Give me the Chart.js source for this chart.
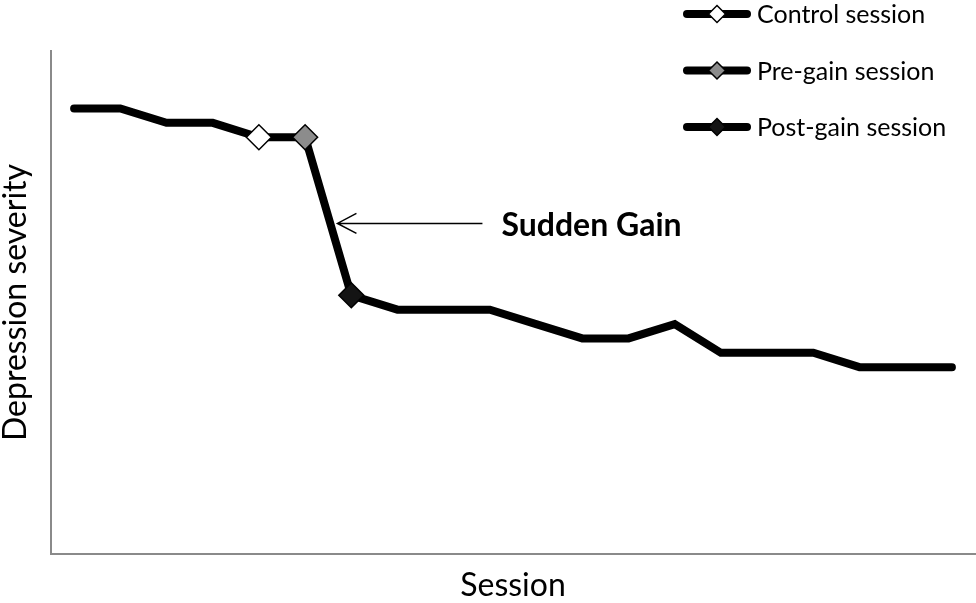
<!DOCTYPE html>
<html>
<head>
<meta charset="utf-8">
<script src="https://cdn.jsdelivr.net/npm/chart.js@4/dist/chart.umd.min.js"></script>
<style>
  html, body { margin: 0; padding: 0; background: #fff; overflow: hidden; }
  #chart { display: block; }
</style>
</head>
<body>
<canvas id="chart" width="976" height="603"></canvas>
<script>
// data
const sessions = ["1", "2", "3", "4", "5", "6", "7", "8", "9", "10",
                  "11", "12", "13", "14", "15", "16", "17", "18", "19", "20"];
const severity = [31, 31, 30, 30, 29, 29, 18, 17, 17, 17,
                  16, 15, 15, 16, 14, 14, 14, 13, 13, 13];
const markerNames = ["Control session", "Pre-gain session", "Post-gain session"];
const markerIndex = [4, 5, 6];
const markerFill = ["#ffffff", "#8c8c8c", "#141414"];
const gainLabel = "Sudden Gain";
const gainArrowAt = [5.7, 23];   // [session index, severity] where the arrow points

const FONT = "Lato, 'Open Sans', sans-serif";

function onlyAt(idx) {
    return severity.map((v, i) => (i === idx ? v : null));
}

function diamond(ctx, x, y, r, fill) {
    ctx.beginPath();
    ctx.moveTo(x, y - r);
    ctx.lineTo(x + r, y);
    ctx.lineTo(x, y + r);
    ctx.lineTo(x - r, y);
    ctx.closePath();
    ctx.fillStyle = fill;
    ctx.fill();
    ctx.lineWidth = 1.5;
    ctx.strokeStyle = "#000";
    ctx.stroke();
}

// legend at the top right: thick line with a diamond in the middle
const legendPlugin = {
    id: "lineDiamondLegend",
    afterDraw(chart) {
        const ctx = chart.ctx;
        ctx.save();
        markerNames.forEach((name, i) => {
            const y = 14 + i * 56.5;
            ctx.beginPath();
            ctx.moveTo(687, y);
            ctx.lineTo(747, y);
            ctx.lineWidth = 8;
            ctx.lineCap = "round";
            ctx.strokeStyle = "#000";
            ctx.stroke();
            diamond(ctx, 717, y, 8.5, markerFill[i]);
            ctx.fillStyle = "#000";
            ctx.font = "25px " + FONT;
            ctx.textBaseline = "middle";
            ctx.textAlign = "left";
            ctx.fillText(name, 757, y + 1);
        });
        ctx.restore();
    }
};

// arrow + "Sudden Gain" label
const gainPlugin = {
    id: "suddenGain",
    afterDatasetsDraw(chart) {
        const ctx = chart.ctx;
        const tipX = chart.scales.x.getPixelForValue(gainArrowAt[0]);
        const tipY = chart.scales.y.getPixelForValue(gainArrowAt[1]);
        ctx.save();
        ctx.strokeStyle = "#000";
        ctx.lineWidth = 1.5;
        ctx.beginPath();
        ctx.moveTo(tipX + 145, tipY);
        ctx.lineTo(tipX, tipY);
        ctx.moveTo(tipX + 19, tipY - 10);
        ctx.lineTo(tipX, tipY);
        ctx.lineTo(tipX + 19, tipY + 10);
        ctx.stroke();
        ctx.fillStyle = "#000";
        ctx.font = "bold 32px " + FONT;
        ctx.textBaseline = "middle";
        ctx.fillText(gainLabel, tipX + 164, tipY + 2);
        ctx.restore();
    }
};

const markerSets = markerNames.map((name, i) => ({
    label: name,
    data: onlyAt(markerIndex[i]),
    showLine: false,
    pointStyle: "rectRot",
    pointRadius: 12.5,
    pointHoverRadius: 12.5,
    pointBackgroundColor: markerFill[i],
    pointBorderColor: "#000",
    pointBorderWidth: 1.5,
    order: 0
}));

new Chart(document.getElementById("chart"), {
    type: "line",
    data: {
        labels: sessions,
        datasets: [
            ...markerSets,
            {
                label: "Depression severity",
                data: severity,
                borderColor: "#000",
                borderWidth: 8,
                borderCapStyle: "round",
                borderJoinStyle: "miter",
                pointRadius: 0,
                tension: 0,
                order: 1
            }
        ]
    },
    options: {
        responsive: false,
        animation: false,
        events: [],
        layout: { autoPadding: false, padding: { top: 51, right: 1, left: 0, bottom: 0 } },
        plugins: { legend: { display: false }, tooltip: { enabled: false } },
        scales: {
            x: {
                offset: true,
                grid: { display: false, drawTicks: false },
                ticks: { display: false },
                border: { display: true, color: "#8a8a8a", width: 2 },
                title: {
                    display: true, text: "Session", color: "#000",
                    font: { family: FONT, size: 32, lineHeight: 1 },
                    padding: { top: 16, bottom: 1 }
                }
            },
            y: {
                min: 0,
                max: 35,
                grid: { display: false, drawTicks: false },
                ticks: { display: false },
                border: { display: true, color: "#8a8a8a", width: 2 },
                title: {
                    display: true, text: "Depression severity", color: "#000",
                    font: { family: FONT, size: 32, lineHeight: 1 },
                    padding: { top: 0, bottom: 19 }
                }
            }
        }
    },
    plugins: [legendPlugin, gainPlugin]
});
</script>
</body>
</html>
